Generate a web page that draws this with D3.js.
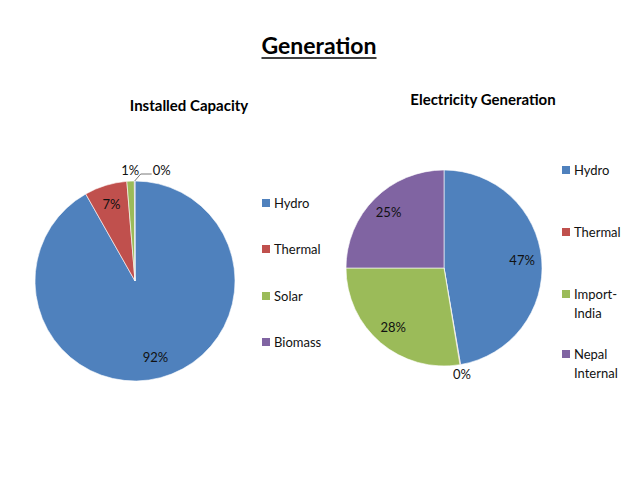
<!DOCTYPE html>
<html>
<head>
<meta charset="utf-8">
<script src="https://cdn.jsdelivr.net/npm/d3@7"></script>
<style>
  body { margin: 0; background: #fff; }
  svg { font-family: Lato, "Open Sans", sans-serif; }
</style>
</head>
<body>
<svg width="638" height="478"></svg>
<script>
// installed capacity (left pie)
var capCategories = ['Hydro', 'Thermal', 'Solar', 'Biomass'];
var capValues = [91.8, 6.9, 1.2, 0.1];
var capLabels = ['92%', '7%', '1%', '0%'];

// electricity generation (right pie)
var genCategories = ['Hydro', 'Thermal', 'Import-India', 'Nepal Internal'];
var genValues = [47.3, 0.1, 27.6, 25.0];
var genLabels = ['47%', '0%', '28%', '25%'];

var colors = ['#4F81BD', '#C0504D', '#9BBB59', '#8064A2'];

var svg = d3.select('svg');

// main title, underlined
var title = svg.append('text')
    .attr('x', 319).attr('y', 54)
    .attr('text-anchor', 'middle')
    .style('font-size', '23px').style('font-weight', 'bold')
    .text('Generation');
var tw = title.node().getComputedTextLength();
svg.append('line')
    .attr('x1', 319 - tw / 2).attr('x2', 319 + tw / 2)
    .attr('y1', 58).attr('y2', 58)
    .attr('stroke', '#000').attr('stroke-width', 1.5);

var drawPie = function(opts) {
  var g = svg.append('g').attr('transform', 'translate(' + opts.cx + ',' + opts.cy + ')');
  var pie = d3.pie().sort(null).value(function(d) { return d; });
  var arcs = pie(opts.values);
  var arc = d3.arc().innerRadius(0).outerRadius(opts.r);

  g.selectAll('path').data(arcs).enter().append('path')
      .attr('d', arc)
      .attr('fill', function(d, i) { return colors[i]; })
      .attr('stroke', '#fff').attr('stroke-width', 0.6);

  arcs.forEach(function(d, i) {
    var mid = (d.startAngle + d.endAngle) / 2;
    var small = (d.endAngle - d.startAngle) < 0.15;
    var lr = small ? opts.r + 10 : opts.r * 0.8;
    var x = Math.sin(mid) * lr;
    var y = -Math.cos(mid) * lr;
    if (small && opts.nudge && opts.nudge[i]) {
      // leader line from pie edge to the shifted label
      var ex = Math.sin(mid) * opts.r, ey = -Math.cos(mid) * opts.r;
      x += opts.nudge[i];
      g.append('path')
          .attr('d', 'M' + ex + ',' + ey + 'L' + (ex + 6) + ',' + (y + 3) + 'L' + (x - 10) + ',' + (y + 3))
          .attr('fill', 'none').attr('stroke', '#555').attr('stroke-width', 0.8);
    }
    g.append('text')
        .attr('x', x).attr('y', y + 4)
        .attr('text-anchor', 'middle')
        .style('font-size', '13px').style('fill', '#111')
        .text(opts.labels[i]);
  });

  svg.append('text')
      .attr('x', opts.titleX).attr('y', opts.titleY)
      .attr('text-anchor', 'middle')
      .style('font-size', '15px').style('font-weight', 'bold')
      .text(opts.title);

  // legend
  var leg = svg.append('g');
  opts.categories.forEach(function(c, i) {
    var ly = opts.legendY[i];
    leg.append('rect')
        .attr('x', opts.legendX).attr('y', ly - 5)
        .attr('width', 8).attr('height', 8)
        .attr('fill', colors[i]);
    var words = opts.wrap && c.indexOf(' ') > 0 ? c.split(' ') : (c.indexOf('-') > 0 && opts.wrap ? [c.split('-')[0] + '-', c.split('-')[1]] : [c]);
    words.forEach(function(w, j) {
      leg.append('text')
          .attr('x', opts.legendX + 12).attr('y', ly + 4 + j * 19)
          .style('font-size', '13px').style('fill', '#111')
          .text(w);
    });
  });
};

drawPie({
  cx: 135, cy: 281, r: 100,
  values: capValues, labels: capLabels, categories: capCategories,
  nudge: {3: 27},
  title: 'Installed Capacity', titleX: 189, titleY: 111,
  legendX: 262, legendY: [204, 250, 297, 343], wrap: false
});

drawPie({
  cx: 444, cy: 268, r: 98,
  values: genValues, labels: genLabels, categories: genCategories,
  title: 'Electricity Generation', titleX: 483, titleY: 105,
  legendX: 562, legendY: [171, 233, 295, 355], wrap: true
});
</script>
</body>
</html>
